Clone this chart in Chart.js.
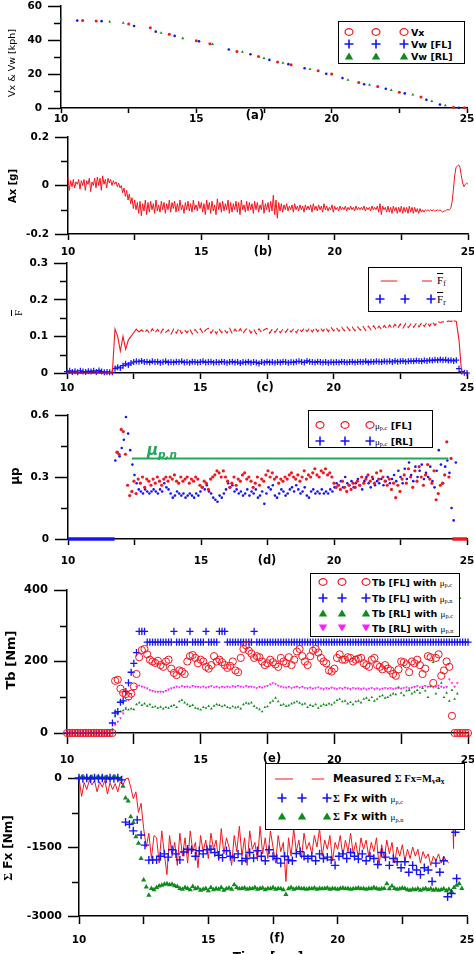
<!DOCTYPE html>
<html>
<head>
<meta charset="utf-8">
<script src="https://cdn.jsdelivr.net/npm/chart.js@4.4.1/dist/chart.umd.min.js"></script>
<style>
  body { margin: 0; width: 474px; height: 954px; overflow: hidden; position: relative; background: #fff; font-family: "DejaVu Sans", sans-serif; color: #000; }
  canvas { position: absolute; left: 0; }
  .abs { position: absolute; white-space: nowrap; }
  .mk { transform: translate(-50%, -50%); line-height: 0; }
  .lt { transform: translateY(-50%); font: bold 9.5px "DejaVu Sans", sans-serif; }
  .ctr { transform: translate(-50%, -50%); font: bold 11.5px "DejaVu Sans", sans-serif; }
  .rot { transform: translate(-50%, -50%) rotate(-90deg); }
  .box { border: 1px solid #000; background: #fff; box-sizing: border-box; }
  .ov { text-decoration: overline; }
  sub { font-size: 0.7em; vertical-align: -0.3em; line-height: 0; }
  .mu { font: normal 9px "Liberation Serif", serif; }
  .ser { font-family: "Liberation Serif", serif; }
</style>
</head>
<body>
<canvas id="pa" width="474" height="128" style="top:0px"></canvas>
<canvas id="pb" width="474" height="134" style="top:128px"></canvas>
<canvas id="pc" width="474" height="140" style="top:258px"></canvas>
<canvas id="pd" width="474" height="172" style="top:400px"></canvas>
<canvas id="pe" width="474" height="190" style="top:576px"></canvas>
<canvas id="pf" width="474" height="188" style="top:766px"></canvas>
<script>
// ---- (a) speeds, kph
const vxT = [10.8, 11.3, 12.5, 13.3, 14.0, 15.0, 15.5, 16.5, 17.3, 18.0, 18.5, 19.5, 20.0, 21.0, 21.7, 22.5, 23.3, 24.5, 24.9];
const vxV = [51.4, 51.2, 49.4, 47.2, 43.4, 39.5, 37.8, 33.2, 30.3, 27.1, 25.4, 21.9, 20.0, 15.0, 12.6, 9.2, 6.5, 0.5, 0.2];
const vwFlT = [10.6, 11.5, 12.7, 13.5, 14.2, 15.1, 16.2, 17.0, 17.7, 18.4, 19.0, 19.8, 20.4, 21.2, 22.0, 22.7, 23.5, 24.0, 24.7];
const vwFlV = [51.4, 51.1, 48.2, 44.9, 42.4, 39.2, 34.4, 31.6, 28.3, 25.8, 23.4, 20.1, 17.6, 14.0, 11.3, 8.6, 4.8, 2.0, 0.1];
const vwRlT = [10.0, 11.8, 12.3, 13.7, 14.5, 15.6, 16.7, 17.5, 18.2, 19.2, 20.6, 21.4, 22.2, 23.0, 23.7, 24.2];
const vwRlV = [52.3, 50.8, 50.0, 44.2, 41.0, 37.5, 33.0, 29.3, 26.5, 22.8, 16.5, 13.6, 10.5, 7.8, 4.0, 1.5];

// ---- (b) Ax [g], sampled every 0.05 s from 10 s
const axStart = 10, axStep = 0.05;
const axVals = [
  0.035, -0.02, 0.02, -0.005, 0.025, -0.01, 0.015, 0.005, 0.025, -0.015, 0.02, 0.0, 0.025, -0.02, 0.02, 0.005, 0.03, -0.025, 0.015, 0.0,
  0.03, -0.01, 0.035, 0.0, 0.03, -0.02, 0.04, 0.005, 0.025, -0.01, 0.03, 0.01, 0.025, 0.0, 0.02, 0.005, 0.015, -0.005, 0.01, -0.01,
  0.0, -0.03, -0.01, -0.045, -0.02, -0.06, -0.035, -0.075, -0.05, -0.095, -0.06, -0.1, -0.07, -0.115, -0.065, -0.125, -0.075, -0.105, -0.06, -0.12,
  -0.07, -0.11, -0.065, -0.1, -0.075, -0.115, -0.06, -0.105, -0.08, -0.11, -0.065, -0.1, -0.07, -0.115, -0.075, -0.1, -0.06, -0.11, -0.07, -0.095,
  -0.065, -0.11, -0.075, -0.105, -0.06, -0.1, -0.08, -0.115, -0.07, -0.1, -0.065, -0.105, -0.075, -0.11, -0.06, -0.1, -0.08, -0.105, -0.065, -0.095,
  -0.07, -0.11, -0.075, -0.12, -0.06, -0.1, -0.07, -0.115, -0.065, -0.105, -0.08, -0.12, -0.055, -0.1, -0.07, -0.11, -0.065, -0.105, -0.075, -0.1,
  -0.06, -0.115, -0.07, -0.11, -0.075, -0.1, -0.065, -0.11, -0.07, -0.12, -0.06, -0.1, -0.08, -0.11, -0.065, -0.105, -0.07, -0.1, -0.075, -0.115,
  -0.065, -0.1, -0.07, -0.11, -0.08, -0.1, -0.06, -0.115, -0.075, -0.1, -0.07, -0.11, -0.065, -0.105, -0.04, -0.12, -0.06, -0.135, -0.07, -0.105,
  -0.075, -0.11, -0.08, -0.1, -0.075, -0.105, -0.085, -0.1, -0.08, -0.11, -0.075, -0.1, -0.085, -0.105, -0.08, -0.1, -0.085, -0.11, -0.08, -0.1,
  -0.085, -0.1, -0.08, -0.11, -0.075, -0.1, -0.085, -0.105, -0.08, -0.1, -0.085, -0.11, -0.075, -0.1, -0.085, -0.105, -0.09, -0.1, -0.08, -0.11,
  -0.085, -0.1, -0.09, -0.105, -0.085, -0.1, -0.09, -0.1, -0.085, -0.105, -0.09, -0.1, -0.085, -0.1, -0.09, -0.105, -0.085, -0.1, -0.09, -0.1,
  -0.09, -0.1, -0.085, -0.105, -0.09, -0.1, -0.09, -0.105, -0.085, -0.1, -0.09, -0.1, -0.085, -0.11, -0.075, -0.12, -0.085, -0.1, -0.09, -0.11,
  -0.085, -0.11, -0.09, -0.115, -0.085, -0.105, -0.09, -0.115, -0.09, -0.11, -0.085, -0.115, -0.09, -0.11, -0.09, -0.115, -0.085, -0.11, -0.09, -0.115,
  -0.09, -0.11, -0.095, -0.115, -0.095, -0.11, -0.1, -0.11, -0.1, -0.105, -0.1, -0.105, -0.1, -0.105, -0.1, -0.105, -0.105, -0.1, -0.105, -0.1,
  -0.105, -0.11, -0.105, -0.105, -0.1, -0.1, -0.1, -0.095, -0.07, -0.02, 0.04, 0.075, 0.08, 0.085, 0.075, 0.04, 0.01, -0.005, 0.005, 0.01, 0.005
];

// ---- (c) normalised forces, every 0.1 s from 10 s
const fStart = 10, fStep = 0.1;
const fFront = [
  0, 0, 0, 0, 0, 0, 0, 0, 0, 0,
  0, 0, 0, 0, 0, 0, 0, 0, 0.12, 0.1,
  0.06, 0.1, 0.065, 0.09, 0.1, 0.11, 0.12, 0.112, 0.118, 0.11,
  0.118, 0.108, 0.121, 0.11, 0.119, 0.107, 0.12, 0.111, 0.118, 0.106,
  0.12, 0.109, 0.122, 0.108, 0.118, 0.11, 0.121, 0.107, 0.119, 0.11,
  0.121, 0.108, 0.118, 0.122, 0.109, 0.12, 0.107, 0.121, 0.11, 0.118,
  0.109, 0.122, 0.107, 0.12, 0.11, 0.121, 0.108, 0.119, 0.122, 0.109,
  0.12, 0.107, 0.121, 0.11, 0.119, 0.122, 0.109, 0.12, 0.111, 0.121,
  0.11, 0.12, 0.111, 0.122, 0.112, 0.121, 0.11, 0.122, 0.113, 0.123,
  0.113, 0.123, 0.112, 0.124, 0.113, 0.123, 0.114, 0.124, 0.113, 0.125,
  0.115, 0.124, 0.114, 0.125, 0.115, 0.126, 0.116, 0.125, 0.115, 0.126,
  0.117, 0.127, 0.116, 0.128, 0.118, 0.129, 0.117, 0.128, 0.119, 0.13,
  0.12, 0.131, 0.121, 0.133, 0.122, 0.134, 0.123, 0.135, 0.124, 0.134,
  0.125, 0.136, 0.126, 0.137, 0.127, 0.139, 0.128, 0.14, 0.13, 0.141,
  0.138, 0.14, 0.139, 0.142, 0.141, 0.143, 0.141, 0.09, 0, 0,
  0
];
const fRear = [
  0.004, 0.006, 0.003, 0.005, 0.002, 0.006, 0.004, 0.003, 0.005, 0.004,
  0.006, 0.003, 0.007, 0.004, 0.002, 0.003, 0.002, 0.002, 0.012, 0.016,
  0.014, 0.02, 0.025, 0.022, 0.027, 0.03, 0.032, 0.031, 0.033, 0.03,
  0.031, 0.029, 0.032, 0.03, 0.031, 0.028, 0.03, 0.032, 0.029, 0.03,
  0.029, 0.031, 0.03, 0.032, 0.029, 0.03, 0.028, 0.031, 0.03, 0.029,
  0.03, 0.032, 0.029, 0.03, 0.031, 0.028, 0.03, 0.029, 0.031, 0.03,
  0.028, 0.03, 0.031, 0.029, 0.03, 0.027, 0.03, 0.029, 0.031, 0.028,
  0.03, 0.029, 0.026, 0.03, 0.028, 0.031, 0.029, 0.03, 0.028, 0.03,
  0.029, 0.031, 0.03, 0.028, 0.03, 0.029, 0.031, 0.032, 0.03, 0.029,
  0.033, 0.031, 0.03, 0.029, 0.031, 0.03, 0.029, 0.03, 0.028, 0.03,
  0.029, 0.03, 0.029, 0.031, 0.03, 0.029, 0.03, 0.031, 0.029, 0.03,
  0.031, 0.03, 0.032, 0.029, 0.031, 0.03, 0.032, 0.031, 0.03, 0.032,
  0.031, 0.032, 0.03, 0.033, 0.031, 0.032, 0.033, 0.031, 0.032, 0.033,
  0.032, 0.034, 0.033, 0.032, 0.034, 0.033, 0.035, 0.034, 0.036, 0.035,
  0.037, 0.035, 0.036, 0.034, 0.035, 0.033, 0.035, 0.012, 0.004, 0.001,
  0
];

// ---- (d) friction coefficient
const muFlStart = 11.84, muFlStep = 0.08;
const muFl = [
  0.42, 0.41, 0.53, 0.52, 0.41, 0.26, 0.21, 0.23, 0.28, 0.22, 0.29, 0.27, 0.3, 0.25, 0.29, 0.28, 0.26, 0.29, 0.27, 0.3, 0.28, 0.26, 0.29, 0.3, 0.28,
  0.3, 0.29, 0.31, 0.28, 0.27, 0.3, 0.28, 0.29, 0.3, 0.27, 0.29, 0.28, 0.3, 0.29, 0.26, 0.25, 0.28, 0.27, 0.24, 0.29, 0.3, 0.31, 0.33, 0.32, 0.3,
  0.33, 0.3, 0.28, 0.25, 0.27, 0.3, 0.26, 0.29, 0.28, 0.31, 0.32, 0.29, 0.3, 0.28, 0.25, 0.27, 0.3, 0.26, 0.29, 0.28, 0.31, 0.33, 0.3, 0.32, 0.29,
  0.3, 0.27, 0.29, 0.28, 0.3, 0.29, 0.31, 0.32, 0.3, 0.29, 0.31, 0.28, 0.3, 0.33, 0.29, 0.31, 0.3, 0.32, 0.34, 0.31, 0.3, 0.33, 0.32, 0.34, 0.31,
  0.32, 0.3, 0.27, 0.25, 0.26, 0.24, 0.28, 0.25, 0.23, 0.26, 0.24, 0.27, 0.25, 0.28, 0.26, 0.3, 0.27, 0.29, 0.31, 0.28, 0.3, 0.27, 0.32, 0.29, 0.33,
  0.3, 0.28, 0.26, 0.29, 0.24, 0.27, 0.2, 0.26, 0.23, 0.29, 0.31, 0.27, 0.34, 0.3, 0.25, 0.33, 0.28, 0.35, 0.3, 0.26, 0.31, 0.36, 0.29, 0.27, 0.33,
  0.19, 0.22, 0.26, 0.27, 0.31, 0.47, 0.3, 0.39
];
const muRlStart = 11.78, muRlStep = 0.08;
const muRl = [
  0.38, 0.42, 0.4, 0.44, 0.48, 0.59, 0.51, 0.43, 0.36, 0.31, 0.27, 0.24, 0.23, 0.22, 0.24, 0.23, 0.22, 0.23, 0.24, 0.23, 0.22, 0.24, 0.23, 0.27, 0.25,
  0.24, 0.22, 0.2, 0.21, 0.23, 0.22, 0.21, 0.22, 0.2, 0.21, 0.22, 0.21, 0.2, 0.22, 0.21, 0.23, 0.25, 0.24, 0.26, 0.23, 0.22, 0.2, 0.19, 0.18, 0.21,
  0.2, 0.22, 0.24, 0.27, 0.25, 0.26, 0.23, 0.24, 0.22, 0.23, 0.21, 0.22, 0.24, 0.21, 0.23, 0.22, 0.24, 0.2, 0.21, 0.23, 0.17, 0.22, 0.25, 0.24, 0.26,
  0.21, 0.2, 0.22, 0.24, 0.23, 0.21, 0.22, 0.24, 0.25, 0.23, 0.26, 0.24, 0.22, 0.23, 0.25, 0.21, 0.2, 0.23, 0.24, 0.22, 0.23, 0.22, 0.24, 0.22, 0.23,
  0.22, 0.24, 0.23, 0.25, 0.27, 0.26, 0.28, 0.25, 0.3, 0.27, 0.26, 0.28, 0.25, 0.27, 0.29, 0.26, 0.24, 0.28, 0.3, 0.27, 0.25, 0.29, 0.26, 0.28, 0.27,
  0.29, 0.26, 0.28, 0.3, 0.27, 0.29, 0.31, 0.28, 0.33, 0.3, 0.27, 0.34, 0.29, 0.37, 0.31, 0.28, 0.35, 0.3, 0.33, 0.36, 0.29, 0.32, 0.3, 0.35, 0.28,
  0.25, 0.33, 0.43, 0.36, 0.27, 0.35, 0.38, 0.32, 0.15, 0.09, 0.37
];
const muRlZeroT = [10, 11.75], muRlZero = [0, 0];
const muFlZeroT = [24.45, 25], muFlZero = [0, 0];
const muPnT = [12.4, 24.3], muPn = [0.39, 0.39];

// ---- (e) brake torque [Nm], every 0.1 s from 10 s
const tbStart = 10, tbStep = 0.1;
const tbFlC = [
  0, 0, 0, 0, 0, 0, 0, 0, 0, 0,
  0, 0, 0, 0, 0, 0, 0, 0, 146, 149,
  124, 112, 109, 102, 110, 130, 165, 212, 232, 235,
  220, 205, 200, 196, 202, 190, 185, 200, 205, 180,
  168, 162, 175, 172, 165, 200, 215, 218, 210, 195,
  205, 200, 185, 180, 190, 215, 200, 205, 198, 190,
  182, 188, 200, 175, 170, 210, 235, 245, 230, 222,
  210, 215, 212, 200, 190, 195, 205, 198, 192, 185,
  210, 200, 195, 212, 190, 205, 228, 235, 215, 200,
  190, 215, 230, 235, 225, 210, 200, 195, 175, 172,
  180, 210, 220, 205, 205, 212, 210, 200, 205, 208,
  210, 195, 190, 185, 205, 210, 190, 185, 178, 190,
  180, 175, 165, 160, 178, 200, 198, 192, 170, 200,
  195, 205, 190, 165, 180, 215, 212, 140, 210, 220,
  160, 175, 200, 185, 48, 0, 0, 0, 0, 0,
  0
];
const tbFlN = [
  0, 0, 0, 0, 0, 0, 0, 0, 0, 0,
  0, 0, 0, 0, 0, 0, 0, 28, 56, 60,
  86, 90, 116, 140, 170, 195, 225, 284, 284, 284,
  254, 254, 254, 254, 254, 254, 254, 254, 254, 254,
  284, 254, 254, 254, 254, 254, 284, 254, 254, 254,
  254, 254, 284, 254, 254, 254, 254, 284, 284, 284,
  254, 254, 254, 254, 254, 254, 254, 254, 254, 254,
  284, 254, 254, 254, 254, 254, 254, 254, 254, 254,
  254, 254, 254, 254, 254, 254, 254, 254, 254, 254,
  254, 254, 254, 254, 254, 254, 254, 254, 254, 254,
  254, 254, 254, 254, 254, 254, 254, 254, 254, 254,
  254, 254, 254, 254, 254, 254, 254, 254, 254, 254,
  254, 254, 254, 254, 254, 254, 254, 254, 254, 254,
  254, 254, 254, 254, 254, 254, 254, 254, 254, 254,
  254, 254, 254, 254, 254, 254, 254, 254, 254, 254,
  254
];
const tbRlC = [
  0, 0, 0, 0, 0, 0, 0, 0, 0, 0,
  0, 0, 0, 0, 0, 0, 0, 10, 46, 55,
  60, 63, 67, 65, 68, 66, 80, 85, 78, 82,
  76, 80, 72, 74, 70, 73, 68, 72, 70, 75,
  78, 72, 88, 92, 85, 80, 75, 78, 70, 68,
  65, 72, 70, 75, 68, 76, 80, 78, 74, 77,
  72, 70, 74, 71, 73, 68, 80, 84, 82, 85,
  75, 70, 66, 60, 72, 74, 85, 90, 98, 88,
  78, 80, 75, 77, 82, 85, 88, 84, 80, 82,
  72, 78, 75, 80, 70, 76, 80, 78, 82, 79,
  85, 92, 95, 88, 90, 82, 86, 80, 88, 90,
  85, 95, 98, 92, 100, 90, 95, 102, 105, 98,
  100, 105, 110, 108, 127, 112, 105, 118, 120, 110,
  115, 120, 112, 125, 118, 100, 130, 198, 110, 125,
  140, 100, 112, 90, 120, 95, 110, 377, null, null,
  null
];
const tbRlN = [
  0, 0, 0, 0, 0, 0, 0, 0, 0, 0,
  0, 0, 0, 0, 0, 0, 0, 10, 23, 32,
  42, 55, 70, 93, 110, 121, 130, 133, 130, 128,
  125, 120, 118, 116, 115, 116, 115, 118, 122, 125,
  127, 130, 128, 131, 129, 130, 128, 132, 130, 129,
  128, 130, 127, 129, 131, 128, 130, 127, 129, 128,
  130, 128, 131, 129, 132, 130, 128, 131, 129, 130,
  128, 126, 129, 127, 130, 132, 136, 140, 137, 133,
  130, 128, 127, 129, 126, 128, 130, 127, 129, 126,
  125, 127, 124, 126, 128, 125, 123, 126, 124, 127,
  125, 123, 126, 124, 127, 125, 123, 126, 124, 125,
  123, 125, 122, 124, 126, 123, 125, 122, 124, 126,
  124, 126, 123, 125, 127, 124, 126, 128, 125, 127,
  129, 131, 128, 130, 132, 129, 131, 128, 130, 133,
  130, 127, 129, 150, 140, 130, 140, null, null, null,
  null
];

// ---- (f) total longitudinal force
const fxMeasStart = 10, fxMeasStep = 0.1;
const fxMeas = [
  0, -400, -100, -250, -50, -150, -60, -300, -80, -200,
  -50, -350, -100, -250, -120, -300, -80, -150, -20, 0,
  -200, -450, -300, -750, -550, -1100, -1500, -1200, -1750, -1250,
  -1300, -1850, -1150, -1650, -2100, -1250, -1700, -1400, -1900, -1200,
  -1700, -1300, -1850, -1150, -1600, -1400, -1950, -1250, -1600, -1350,
  -1750, -1200, -1550, -1350, -1800, -1100, -1650, -1300, -1500, -1900,
  -1250, -1600, -1050, -1700, -1300, -1900, -1150, -1550, -1400, -1800,
  -1050, -1650, -1300, -1750, -1150, -1500, -1850, -1250, -1600, -1400,
  -2250, -1300, -1700, -1100, -1600, -1350, -1750, -1200, -1550, -1400,
  -1650, -1250, -1500, -1100, -1700, -1350, -1550, -1250, -1800, -1400,
  -1550, -1250, -1700, -1350, -1600, -1200, -1650, -1400, -1750, -1300,
  -1550, -1350, -1700, -1400, -1600, -1300, -1900, -1450, -1750, -1350,
  -1650, -1400, -1850, -1500, -1700, -1450, -1800, -1550, -1750, -1500,
  -1700, -1550, -1850, -1600, -1750, -1650, -1900, -1700, -1800, -1650,
  -1850, -1700, -1800, -1850
];
const fxMeasTailT = [24.46, 24.48], fxMeasTail = [-1130, -1530];
const fxMuCStart = 10, fxMuCStep = 0.15;
const fxMuC = [
  0, -10, 0, -20, 0, -10, 0, -20, 0, -10,
  0, -40, -960, -1005, -1150, -910, -1240, -1460, -1785, -1780,
  -1780, -1700, -1650, -1720, -1560, -1650, -1780, -1610, -1550, -1560,
  -1700, -1580, -1650, -1560, -1550, -1620, -1680, -1730, -1580, -1700,
  -1730, -1650, -1800, -1750, -1620, -1740, -1580, -1700, -1800, -1560,
  -1700, -1750, -1850, -1700, -1780, -1800, -1640, -1600, -1700, -1750,
  -1700, -1800, -1650, -1750, -1720, -1780, -1900, -1700, -1650, -1750,
  -1620, -1700, -1760, -1650, -1800, -1700, -1750, -1880, -1620, -1720,
  -1900, -1750, -1820, -1950, -1820, -2050, -1900, -2000, -2100, -1950,
  -2000, -2250, -1850, -2050, -1800, -2580, -2510
];
const fxMuCTailT = [24.55, 24.6], fxMuCTail = [-1180, -2185];
const fxMuNStart = 10, fxMuNStep = 0.1;
const fxMuN = [
  0, 15, 0, 10, -10, 20, 0, 10, 0, 15,
  0, 10, -10, 0, 15, 0, -20, -180, -437, -500,
  -840, -970, -1275, -1420, -1750, -2220, -2370, -2550, -2400, -2430,
  -2380, -2350, -2330, -2310, -2300, -2320, -2310, -2340, -2360, -2400,
  -2420, -2380, -2400, -2430, -2360, -2410, -2390, -2440, -2420, -2400,
  -2450, -2380, -2430, -2400, -2420, -2380, -2440, -2410, -2390, -2420,
  -2320, -2380, -2410, -2400, -2390, -2420, -2400, -2410, -2380, -2420,
  -2400, -2390, -2430, -2400, -2410, -2380, -2420, -2400, -2410, -2430,
  -2530, -2410, -2380, -2420, -2400, -2390, -2410, -2400, -2420, -2400,
  -2410, -2390, -2420, -2400, -2410, -2400, -2390, -2420, -2400, -2410,
  -2420, -2400, -2390, -2410, -2400, -2420, -2410, -2400, -2390, -2410,
  -2400, -2420, -2400, -2410, -2380, -2400, -2420, -2410, -2400, -2300,
  -2410, -2350, -2400, -2420, -2410, -2390, -2400, -2430, -2440, -2420,
  -2430, -2410, -2440, -2420, -2400, -2430, -2410, -2440, -2420, -2440,
  -2430, -2410, -2450, -2420, -2470, -2380, -2330, -2300, -2400
];

// colours
const red = '#f2171d', blue = '#1414f5', green = '#0f8a1c', magenta = '#ff1dff', lineGreen = '#22a65a';
const tickFont = { family: 'DejaVu Sans', size: 10.5, weight: 'bold' };

Chart.defaults.font.family = 'DejaVu Sans';

function sampled(t0, dt, vals) {
  return vals.map((v, i) => ({ x: +(t0 + i * dt).toFixed(3), y: v }));
}
function paired(ts, vals) {
  return ts.map((t, i) => ({ x: t, y: vals[i] }));
}
function dots(data, color, style, r, extra) {
  return Object.assign({ data, pointStyle: style, pointRadius: r, backgroundColor: color, borderColor: color,
    pointBorderWidth: 0, borderWidth: 0, showLine: false, clip: false }, extra || {});
}
function marks(data, color, style, r, w, extra) {
  return Object.assign({ data, pointStyle: style, pointRadius: r, backgroundColor: 'rgba(0,0,0,0)', borderColor: color,
    pointBorderWidth: w, borderWidth: w, showLine: false, clip: false }, extra || {});
}
function trace(data, color, w, extra) {
  return Object.assign({ data, showLine: true, pointRadius: 0, borderColor: color, backgroundColor: color,
    borderWidth: w, clip: false }, extra || {});
}

// short, unlabeled ticks between the labelled ones on the y axis
const minorTicks = {
  id: 'minorTicks',
  afterDraw(chart, args, opts) {
    const { ctx } = chart;
    const x = chart.scales.x, y = chart.scales.y;
    ctx.save();
    ctx.strokeStyle = '#000';
    ctx.lineWidth = 1.5;
    (opts.values || []).forEach(v => {
      const py = Math.round(y.getPixelForValue(v)) + 0.5;
      ctx.beginPath();
      ctx.moveTo(x.left, py);
      ctx.lineTo(x.left - opts.len, py);
      ctx.stroke();
    });
    ctx.restore();
  }
};

function makePanel(id, box, yOpt, datasets) {
  const cv = document.getElementById(id);
  const top = parseFloat(cv.style.top), height = cv.height;
  return new Chart(cv, {
    type: 'scatter',
    data: { datasets },
    options: {
      responsive: false, animation: false, events: [],
      layout: { padding: { left: 0, right: 474 - box.right, top: box.top - top, bottom: 0 } },
      plugins: {
        legend: { display: false }, tooltip: { enabled: false },
        minorTicks: { values: yOpt.minor, len: 7 }
      },
      scales: {
        x: {
          type: 'linear', min: 10, max: 25,
          afterFit: s => { s.height = top + height - box.bottom; s.paddingLeft = 0; s.paddingRight = 0; },
          ticks: { stepSize: 2.5, autoSkip: false, maxRotation: 0, padding: box.xPad, color: '#000', font: tickFont,
            callback: v => (v % 5 === 0 ? String(v) : '') },
          grid: { drawOnChartArea: false, tickLength: box.xTick, tickWidth: 1.5, tickColor: '#000' },
          border: { color: '#000', width: 1.5 }
        },
        y: {
          type: 'linear', min: yOpt.min, max: yOpt.max,
          afterFit: s => { s.width = box.left; s.paddingTop = 0; s.paddingBottom = 0; },
          ticks: { stepSize: yOpt.step, padding: 6, color: '#000', font: yOpt.font || tickFont, callback: yOpt.fmt },
          grid: { drawOnChartArea: false, tickLength: yOpt.tick || 13, tickWidth: 1.5, tickColor: '#000' },
          border: { color: '#000', width: 1.5 }
        }
      }
    },
    plugins: [minorTicks]
  });
}

const fmtDec = v => (Math.abs(v) < 1e-9 ? '0' : v.toFixed(1));

// (a)
makePanel('pa', { left: 61, right: 467, top: 6, bottom: 108, xTick: 5, xPad: 0 },
  { min: 0, max: 60, step: 20, minor: [10, 30, 50], fmt: v => String(v) }, [
    dots(paired(vxT, vxV), red, 'circle', 1.5),
    dots(paired(vwFlT, vwFlV), blue, 'circle', 1.3),
    dots(paired(vwRlT, vwRlV), green, 'triangle', 1.7)
  ]);

// (b)
makePanel('pb', { left: 68, right: 468, top: 137, bottom: 234, xTick: 6, xPad: 6 },
  { min: -0.2, max: 0.2, step: 0.2, minor: [-0.1, 0.1], fmt: fmtDec }, [
    trace(sampled(axStart, axStep, axVals), red, 1)
  ]);

// (c)
makePanel('pc', { left: 67, right: 467, top: 263, bottom: 373, xTick: 6, xPad: 3 },
  { min: 0, max: 0.3, step: 0.1, minor: [0.05, 0.15, 0.25], fmt: fmtDec }, [
    trace(sampled(fStart, fStep, fFront), red, 1.1, { segment: { borderDash: c => (c.p0.parsed.x > 12.6 && c.p0.parsed.x < 24.5 ? [6, 3] : undefined) } }),
    marks(sampled(fStart, fStep, fRear), blue, 'cross', 3, 1.2)
  ]);

// (d)
makePanel('pd', { left: 68, right: 467, top: 415, bottom: 539, xTick: 6, xPad: 10 },
  { min: 0, max: 0.6, step: 0.3, minor: [0.15, 0.45], fmt: fmtDec }, [
    trace(paired(muPnT, muPn), lineGreen, 2),
    dots(sampled(muFlStart, muFlStep, muFl), red, 'circle', 1.6),
    dots(sampled(muRlStart, muRlStep, muRl), blue, 'circle', 1.3),
    trace(paired(muRlZeroT, muRlZero), blue, 3.5),
    trace(paired(muFlZeroT, muFlZero), red, 3.5)
  ]);

// (e)
makePanel('pe', { left: 67, right: 468, top: 590, bottom: 733, xTick: 11, xPad: 10 },
  { min: 0, max: 400, step: 200, minor: [100, 300], fmt: v => String(v), font: { family: 'DejaVu Sans', size: 11.5, weight: 'bold' } }, [
    marks(sampled(tbStart, tbStep, tbFlC), red, 'circle', 3.6, 1),
    marks(sampled(tbStart, tbStep, tbFlN), blue, 'cross', 3.6, 1.3),
    dots(sampled(tbStart, tbStep, tbRlC), green, 'triangle', 1.6),
    dots(sampled(tbStart, tbStep, tbRlN), magenta, 'triangle', 1.6, { pointRotation: 180 })
  ]);

// (f)
makePanel('pf', { left: 79, right: 467, top: 778, bottom: 916, xTick: 8, xPad: 10 },
  { min: -3000, max: 0, step: 1500, minor: [-750, -2250], tick: 11, fmt: v => String(v), font: { family: 'DejaVu Sans', size: 11, weight: 'bold' } }, [
    marks(sampled(fxMuCStart, fxMuCStep, fxMuC).concat(paired(fxMuCTailT, fxMuCTail)), blue, 'cross', 4.2, 1.4),
    trace(sampled(fxMeasStart, fxMeasStep, fxMeas), red, 1),
    trace(paired(fxMeasTailT, fxMeasTail), red, 1),
    dots(sampled(fxMuNStart, fxMuNStep, fxMuN), green, 'triangle', 3)
  ]);

// ---- text, legends
function put(html, x, y, cls, style) {
  const el = document.createElement('div');
  el.className = 'abs ' + (cls || '');
  el.style.left = x + 'px';
  el.style.top = y + 'px';
  if (style) el.style.cssText += style;
  el.innerHTML = html;
  document.body.appendChild(el);
  return el;
}
const SYM = {
  circle: c => `<svg width="10" height="9"><ellipse cx="5" cy="4.5" rx="4" ry="3.4" fill="none" stroke="${c}" stroke-width="1.2"/></svg>`,
  cross: c => `<svg width="11" height="11"><path d="M5.5 1V10M1 5.5H10" stroke="${c}" stroke-width="1.6"/></svg>`,
  up: c => `<svg width="10" height="9"><path d="M5 1L9.2 8H0.8Z" fill="${c}"/></svg>`,
  down: c => `<svg width="10" height="9"><path d="M0.8 1H9.2L5 8Z" fill="${c}"/></svg>`,
  dash: (c, w) => `<svg width="${w}" height="3"><path d="M0 1.5H${w}" stroke="${c}" stroke-width="1"/></svg>`
};
function legend(box, textX, rows, font) {
  put('', box[0], box[1], 'box', `width:${box[2]}px;height:${box[3]}px;`);
  rows.forEach(r => {
    r.marks.forEach(m => put(m[0], m[1], r.y, 'mk'));
    const t = put(r.text, textX, r.y, 'lt');
    if (font) t.style.font = font;
  });
}
const mu = s => `<span class="mu">μ<sub>${s}</sub></span>`;

legend([338, 21, 127, 43], 411, [
  { y: 32, marks: [[SYM.circle(red), 349], [SYM.circle(red), 376], [SYM.circle(red), 404]], text: 'Vx' },
  { y: 44, marks: [[SYM.cross(blue), 349], [SYM.cross(blue), 376], [SYM.cross(blue), 404]], text: 'Vw [FL]' },
  { y: 56, marks: [[SYM.up(green), 349], [SYM.up(green), 376], [SYM.up(green), 404]], text: 'Vw [RL]' }
]);
legend([368, 267, 94, 45], 437, [
  { y: 280, marks: [[SYM.dash(red, 17), 389], [SYM.dash(red, 10), 427]], text: '<span class="ov">F</span><sub>f</sub>' },
  { y: 299, marks: [[SYM.cross(blue), 380], [SYM.cross(blue), 405], [SYM.cross(blue), 431]], text: '<span class="ov">F</span><sub>r</sub>' }
], 'normal 11px "Liberation Serif", serif');
legend([308, 410, 125, 38], 375, [
  { y: 425, marks: [[SYM.circle(red), 320], [SYM.circle(red), 345], [SYM.circle(red), 370]], text: mu('p,c') + ' [FL]' },
  { y: 441, marks: [[SYM.cross(blue), 320], [SYM.cross(blue), 345], [SYM.cross(blue), 370]], text: mu('p,c') + ' [RL]' }
]);
legend([310, 573, 150, 64], 372, [
  { y: 582, marks: [[SYM.circle(red), 323], [SYM.circle(red), 342], [SYM.circle(red), 366]], text: 'Tb [FL] with ' + mu('p,c') },
  { y: 598, marks: [[SYM.cross(blue), 323], [SYM.cross(blue), 342], [SYM.cross(blue), 366]], text: 'Tb [FL] with ' + mu('p,n') },
  { y: 613, marks: [[SYM.up(green), 323], [SYM.up(green), 342], [SYM.up(green), 366]], text: 'Tb [RL] with ' + mu('p,c') },
  { y: 628, marks: [[SYM.down(magenta), 323], [SYM.down(magenta), 342], [SYM.down(magenta), 366]], text: 'Tb [RL] with ' + mu('p,n') }
]);
legend([265, 763, 200, 67], 333, [
  { y: 778, marks: [[SYM.dash(red, 18), 284], [SYM.dash(red, 13), 318]], text: 'Measured <span class="ser">Σ Fx=M<sub>v</sub>a<sub>x</sub></span>' },
  { y: 798, marks: [[SYM.cross(blue), 282], [SYM.cross(blue), 302], [SYM.cross(blue), 327]], text: '<span class="ser">Σ</span> Fx with ' + mu('p,c') },
  { y: 816, marks: [[SYM.up(green), 282], [SYM.up(green), 302], [SYM.up(green), 327]], text: '<span class="ser">Σ</span> Fx with ' + mu('p,n') }
], 'bold 10.5px "DejaVu Sans", sans-serif');

// panel letters
[['(a)', 255, 115], ['(b)', 263, 251], ['(c)', 265, 387], ['(d)', 267, 560], ['(e)', 272, 758], ['(f)', 277, 938]]
  .forEach(p => put(p[0], p[1], p[2], 'ctr'));
put('Time [sec]', 268, 957, 'ctr', 'font-size:12px;');

// axis titles
put('Vx &amp; Vw [kph]', 11, 63, 'rot', 'font:normal 9.5px "DejaVu Sans",sans-serif;');
put('Ax [g]', 12, 186, 'rot', 'font:bold 10px "DejaVu Sans",sans-serif;');
put('<span class="ov">F</span>', 18, 313, 'rot', 'font:normal 11px "Liberation Serif",serif;');
put('μp', 15, 476, 'rot', 'font:bold 12px "DejaVu Sans",sans-serif;');
put('Tb [Nm]', 10, 660, 'rot', 'font:bold 13px "DejaVu Sans",sans-serif;');
put('<span class="ser">Σ</span> Fx [Nm]', 8, 848, 'rot', 'font:bold 12px "DejaVu Sans",sans-serif;');

// μp,n label in (d)
put('<i>μ<sub>p,n</sub></i>', 147, 450, '', `transform:translateY(-50%);font:bold 15px "DejaVu Sans",sans-serif;color:${lineGreen};`);
</script>
</body>
</html>
